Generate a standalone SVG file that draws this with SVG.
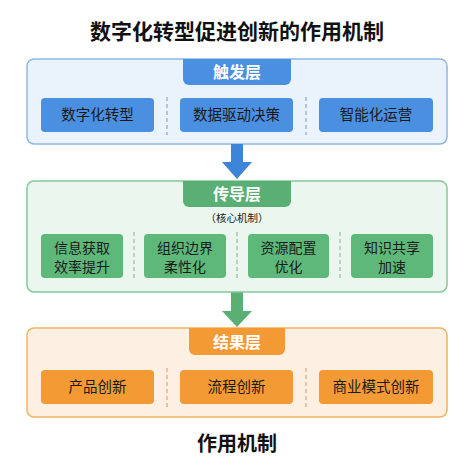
<svg xmlns="http://www.w3.org/2000/svg" width="474" height="474" viewBox="0 0 474 474">
<style>
text{font-family:"Noto Sans CJK SC","Noto Sans",sans-serif;text-anchor:middle}
.title{font-size:21px;font-weight:700;fill:#111}
.tab{font-size:16px;font-weight:700;fill:#fff}
.lbl{font-size:14.5px;fill:#1a1a1a}
.lbl2{font-size:14px;fill:#1a1a1a}
.sub{font-size:10.5px;fill:#222}
.sep{stroke-width:1.2;stroke-dasharray:4 3;fill:none}
</style>
<rect width="474" height="474" fill="#fff"/>
<text class="title" x="237" y="39">数字化转型促进创新的作用机制</text>

<g id="trigger-layer">
<rect x="27" y="59" width="420" height="85" rx="7" fill="#eaf2fb" stroke="#8fb6e3" stroke-width="1.5"/>
<path d="M183 59 H291 V79 a6 6 0 0 1 -6 6 H189 a6 6 0 0 1 -6 -6 Z" fill="#4a8fe0"/>
<text class="tab" x="237" y="78">触发层</text>
<g stroke="#8aa8c8" class="sep"><line x1="167" y1="97" x2="167" y2="135"/><line x1="306" y1="97" x2="306" y2="135"/></g>
</g>
<g id="t1"><rect x="41" y="98" width="113" height="34" rx="4" fill="#4a8fe0"/><text class="lbl" x="97.5" y="120">数字化转型</text></g>
<g id="t2"><rect x="180" y="98" width="113" height="34" rx="4" fill="#4a8fe0"/><text class="lbl" x="236.5" y="120">数据驱动决策</text></g>
<g id="t3"><rect x="319" y="98" width="114" height="34" rx="4" fill="#4a8fe0"/><text class="lbl" x="376" y="120">智能化运营</text></g>

<g id="connectors">
<path d="M231 144 H243 V162 H252 L237 179 L222 162 H231 Z" fill="#3d85d8"/>
<path d="M231 292 H243 V311 H252 L237 327 L222 311 H231 Z" fill="#5aaf74"/>
</g>

<g id="transmission-layer">
<rect x="27" y="181" width="420" height="111" rx="7" fill="#eaf6ee" stroke="#86c79a" stroke-width="1.5"/>
<path d="M183 181 H291 V201 a6 6 0 0 1 -6 6 H189 a6 6 0 0 1 -6 -6 Z" fill="#5aaf74"/>
<text class="tab" x="237" y="200">传导层</text>
<text class="sub" x="237" y="222">（核心机制）</text>
<g stroke="#9ab8a4" class="sep"><line x1="134" y1="232" x2="134" y2="280"/><line x1="237" y1="232" x2="237" y2="280"/><line x1="340" y1="232" x2="340" y2="280"/></g>
</g>
<g id="m1"><rect x="41" y="234" width="82" height="44" rx="4" fill="#5db87a"/><text class="lbl2" x="82" y="253">信息获取</text><text class="lbl2" x="82" y="272">效率提升</text></g>
<g id="m2"><rect x="144" y="234" width="82" height="44" rx="4" fill="#5db87a"/><text class="lbl2" x="185" y="253">组织边界</text><text class="lbl2" x="185" y="272">柔性化</text></g>
<g id="m3"><rect x="248" y="234" width="81" height="44" rx="4" fill="#5db87a"/><text class="lbl2" x="288.5" y="253">资源配置</text><text class="lbl2" x="288.5" y="272">优化</text></g>
<g id="m4"><rect x="351" y="234" width="82" height="44" rx="4" fill="#5db87a"/><text class="lbl2" x="392" y="253">知识共享</text><text class="lbl2" x="392" y="272">加速</text></g>

<g id="result-layer">
<rect x="27" y="328" width="420" height="89" rx="7" fill="#fdf0e2" stroke="#f0b366" stroke-width="1.5"/>
<path d="M189 328 H285 V349 a6 6 0 0 1 -6 6 H195 a6 6 0 0 1 -6 -6 Z" fill="#f39a35"/>
<text class="tab" x="237" y="348">结果层</text>
<g stroke="#d8a878" class="sep"><line x1="167" y1="368" x2="167" y2="407"/><line x1="306" y1="368" x2="306" y2="407"/></g>
</g>
<g id="r1"><rect x="41" y="370" width="113" height="34" rx="4" fill="#f39a35"/><text class="lbl" x="97.5" y="392">产品创新</text></g>
<g id="r2"><rect x="180" y="370" width="113" height="34" rx="4" fill="#f39a35"/><text class="lbl" x="236.5" y="392">流程创新</text></g>
<g id="r3"><rect x="319" y="370" width="114" height="34" rx="4" fill="#f39a35"/><text class="lbl" x="376" y="392">商业模式创新</text></g>

<text class="title" x="237" y="451" style="font-size:20px">作用机制</text>
</svg>
